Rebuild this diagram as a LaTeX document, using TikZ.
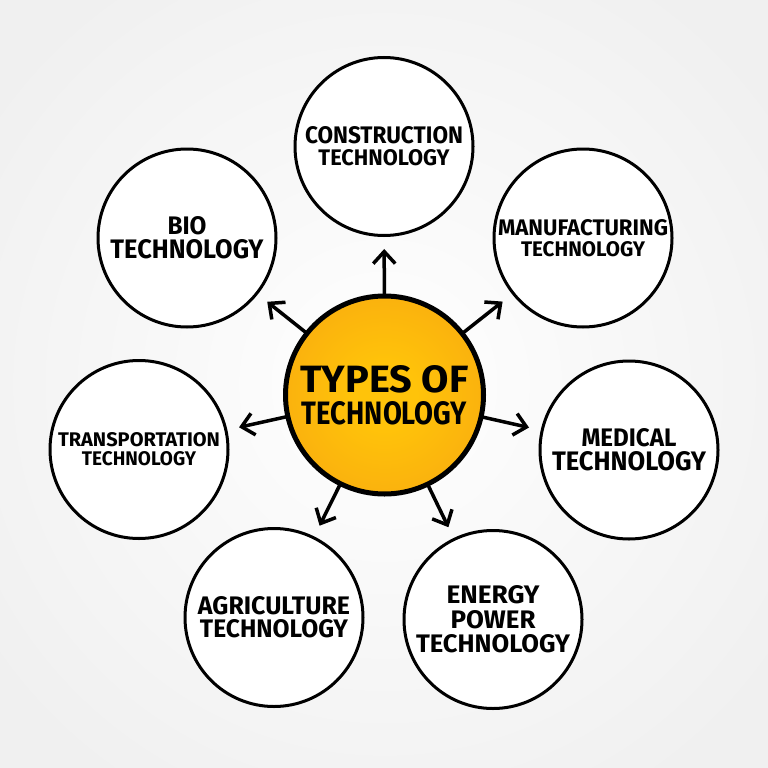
\documentclass[tikz,border=0pt]{standalone}
\usepackage{fontspec}
\setmainfont{Fira Sans}
\usetikzlibrary{arrows.meta}
\definecolor{bgedge}{HTML}{F0F0F0}
\definecolor{orcore}{HTML}{FFC30A}
\definecolor{oredge}{HTML}{F59B12}
\pgfdeclareradialshading{orb}{\pgfpoint{0bp}{0bp}}{color(0bp)=(orcore); color(8bp)=(orcore); color(48bp)=(oredge); color(100bp)=(oredge)}
\newcommand{\tx}[3]{\resizebox{#1}{#2}{\bfseries #3}}
\tikzset{
  bub/.style={circle, draw=black, line width=3pt, fill=white, minimum size=178pt, inner sep=0pt, align=center},
  hub/.style={circle, draw=black, line width=5pt, shading=orb, minimum size=198pt, inner sep=0pt, align=center},
  arr/.style={line width=3.5pt, -{Straight Barb[length=12pt,width=22pt,line width=3.5pt]}, shorten >=12pt, shorten <=-3pt}
}
\begin{document}
\begin{tikzpicture}[x=1pt,y=-1pt]
\useasboundingbox (0,0) rectangle (768,768);
\shade[inner color=white, outer color=bgedge] (-100,-100) rectangle (868,868);
\node[hub, font=\fontsize{20}{32}\selectfont] (c) at (384.5,395) {\tx{168pt}{27pt}{TYPES OF}\\\tx{165pt}{23pt}{TECHNOLOGY}};
\node[bub, font=\fontsize{16}{22}\selectfont] (con) at (384,146.5) {\tx{158pt}{17pt}{CONSTRUCTION}\\\tx{131pt}{16pt}{TECHNOLOGY}};
\node[bub, font=\fontsize{16}{24}\selectfont] (bio) at (187,238) {\tx{39pt}{18pt}{BIO}\\\tx{153pt}{19pt}{TECHNOLOGY}};
\node[bub, font=\fontsize{16}{21}\selectfont] (man) at (583,238) {\tx{170pt}{16pt}{MANUFACTURING}\\\tx{124pt}{15pt}{TECHNOLOGY}};
\node[bub, font=\fontsize{16}{19}\selectfont] (tra) at (139,449.5) {\tx{162pt}{14pt}{TRANSPORTATION}\\\tx{114pt}{14pt}{TECHNOLOGY}};
\node[bub, font=\fontsize{16}{24}\selectfont] (med) at (629,450) {\tx{95pt}{18pt}{MEDICAL}\\\tx{154pt}{19pt}{TECHNOLOGY}};
\node[bub, font=\fontsize{16}{23}\selectfont] (agr) at (274,617.5) {\tx{152pt}{18pt}{AGRICULTURE}\\\tx{148pt}{18pt}{TECHNOLOGY}};
\node[bub, font=\fontsize{16}{24.5}\selectfont] (ene) at (493,619.5) {\tx{93pt}{18pt}{ENERGY}\\\tx{85pt}{18pt}{POWER}\\\tx{154pt}{18pt}{TECHNOLOGY}};
\foreach \t in {con,bio,man,tra,med,agr,ene}{\draw[arr] (c) -- (\t);}
\end{tikzpicture}
\end{document}
